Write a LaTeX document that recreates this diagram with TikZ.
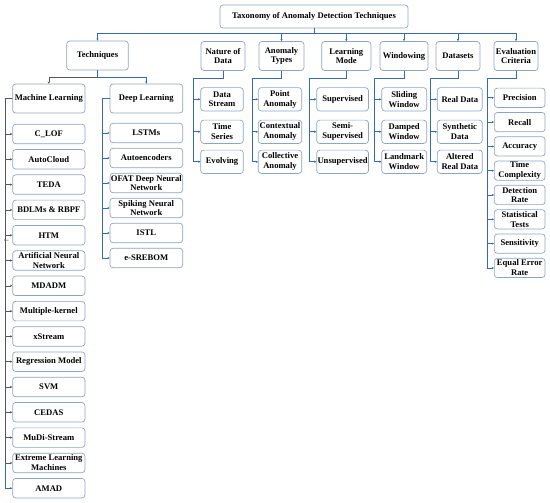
\documentclass[tikz,border=0pt]{standalone}
\usepackage{fontspec}
\setmainfont{Liberation Serif}
\usetikzlibrary{arrows.meta}
\tikzset{>=Stealth}
\definecolor{boxline}{RGB}{140,165,195}
\definecolor{linkblue}{RGB}{55,105,175}
\definecolor{linkgray}{RGB}{85,85,85}
\tikzset{
  box/.style={draw=boxline, line width=0.7pt, rounded corners=3pt, align=center,
    inner sep=0.5pt, font=\bfseries\fontsize{8.6}{9.8}\selectfont},
  topbox/.style={box, minimum height=29pt},
  mlbox/.style={box, minimum width=72.3pt, minimum height=19.5pt},
  dlbox/.style={box, minimum width=72.7pt, minimum height=19.5pt},
  rowbox/.style={box, minimum height=23.3pt},
  evbox/.style={box, minimum width=50.7pt, minimum height=19.3pt},
  link/.style={draw=linkblue, line width=0.6pt, -{Stealth[length=2.2pt,width=2.2pt]}},
  mllink/.style={link, draw=linkgray},
}

\begin{document}
\begin{tikzpicture}[x=1pt,y=-1pt]
\useasboundingbox (0,0) rectangle (550,503);

% root
\node[box, minimum width=188pt, minimum height=23pt] (root) at (314,16.5) {Taxonomy of Anomaly Detection Techniques};

% first level
\node[topbox, minimum width=61.6pt] (tech) at (97.5,55.5) {Techniques};
\node[topbox, minimum width=44pt] (nature) at (223,56) {Nature of\\Data};
\node[topbox, minimum width=45pt] (atypes) at (281.5,56) {Anomaly\\Types};
\node[topbox, minimum width=49.3pt] (lmode) at (346.3,56) {Learning\\Mode};
\node[topbox, minimum width=48pt] (window) at (404,56) {Windowing};
\node[topbox, minimum width=44pt] (dsets) at (458,56) {Datasets};
\node[topbox, minimum width=44pt] (evalc) at (516,56) {Evaluation\\Criteria};

% techniques
\node[topbox, minimum width=72.3pt] (ml) at (48.8,98.5) {Machine Learning};
\node[topbox, minimum width=72.7pt] (dl) at (146.3,98.5) {Deep Learning};

\node[mlbox] (clof) at (48.8,134) {C\_LOF};
\node[mlbox] (autocloud) at (48.8,159.3) {AutoCloud};
\node[mlbox] (teda) at (48.8,184.6) {TEDA};
\node[mlbox] (bdlm) at (48.8,209.9) {BDLMs \& RBPF};
\node[mlbox] (htm) at (48.8,235.2) {HTM};
\node[mlbox] (ann) at (48.8,260.5) {Artificial Neural\\Network};
\node[mlbox] (mdadm) at (48.8,285.8) {MDADM};
\node[mlbox] (mkernel) at (48.8,311.1) {Multiple-kernel};
\node[mlbox] (xstream) at (48.8,336.4) {xStream};
\node[mlbox] (regr) at (48.8,361.7) {Regression Model};
\node[mlbox] (svm) at (48.8,387) {SVM};
\node[mlbox] (cedas) at (48.8,412.3) {CEDAS};
\node[mlbox] (mudi) at (48.8,437.6) {MuDi-Stream};
\node[mlbox] (elm) at (48.8,462.9) {Extreme Learning\\Machines};
\node[mlbox] (amad) at (48.8,488.2) {AMAD};
\node[font=\fontsize{2.5}{3}\selectfont, inner sep=0pt] (tnote) at (6.3,240.3) {Text};

\node[dlbox] (lstm) at (146.3,133) {LSTMs};
\node[dlbox] (autoenc) at (146.3,158) {Autoencoders};
\node[dlbox] (ofat) at (146.3,183) {OFAT Deep Neural\\Network};
\node[dlbox] (spiking) at (146.3,208) {Spiking Neural\\Network};
\node[dlbox] (istl) at (146.3,233) {ISTL};
\node[dlbox] (esrebom) at (146.3,258) {e-SREBOM};

% nature of data
\node[rowbox, minimum width=42.6pt] (dstream) at (222,99.3) {Data\\Stream};
\node[rowbox, minimum width=42.6pt] (tseries) at (222,131.8) {Time\\Series};
\node[rowbox, minimum width=42.6pt] (evolving) at (222,161.8) {Evolving};

% anomaly types
\node[rowbox, minimum width=43.4pt] (point) at (280,99.3) {Point\\Anomaly};
\node[rowbox, minimum width=43.4pt] (context) at (280,131.8) {Contextual\\Anomaly};
\node[rowbox, minimum width=43.4pt] (collect) at (280,161.8) {Collective\\Anomaly};

% learning mode
\node[rowbox, minimum width=51.8pt] (superv) at (342.6,99.3) {Supervised};
\node[rowbox, minimum width=51.8pt] (semi) at (342.6,131.8) {Semi-\\Supervised};
\node[rowbox, minimum width=51.8pt] (unsup) at (342.6,161.8) {Unsupervised};

% windowing
\node[rowbox, minimum width=45pt] (sliding) at (404.2,99.3) {Sliding\\Window};
\node[rowbox, minimum width=45pt] (damped) at (404.2,131.8) {Damped\\Window};
\node[rowbox, minimum width=45pt] (landmark) at (404.2,161.8) {Landmark\\Window};

% datasets
\node[rowbox, minimum width=45pt] (real) at (459.8,99.3) {Real Data};
\node[rowbox, minimum width=45pt] (synth) at (459.8,131.8) {Synthetic\\Data};
\node[rowbox, minimum width=45pt] (altered) at (459.8,161.8) {Altered\\Real Data};

% evaluation criteria
\node[evbox] (precision) at (519.7,97.8) {Precision};
\node[evbox] (recall) at (519.7,122.1) {Recall};
\node[evbox] (accuracy) at (519.7,146.4) {Accuracy};
\node[evbox] (tcomplex) at (519.7,170.7) {Time\\Complexity};
\node[evbox] (drate) at (519.7,195) {Detection\\Rate};
\node[evbox] (stests) at (519.7,219.3) {Statistical\\Tests};
\node[evbox] (sensit) at (519.7,243.6) {Sensitivity};
\node[evbox] (eer) at (519.7,267.9) {Equal Error\\Rate};

% connectors
\foreach \c in {tech,atypes,lmode,window,dsets,evalc}
  \draw[link] (root.south) -- ++(0,4.5) -| (\c.north);

\draw[mllink] (tech.south) -- ++(0,6.5) -| (ml.north);
\draw[link] (tech.south) -- ++(0,6.5) -| (dl.north);

\draw[link] (ml.west) -| ([xshift=-7.5pt]amad.west) -- (amad.west);
\foreach \c in {clof,autocloud,teda,bdlm,htm,ann,mdadm,mkernel,xstream,regr,svm,cedas,mudi,elm}
  \draw[mllink] (ml.west) -| ([xshift=-7.5pt]\c.west) -- (\c.west);
\foreach \c in {lstm,autoenc,ofat,spiking,istl,esrebom}
  \draw[link] (dl.west) -| ([xshift=-7pt]\c.west) -- (\c.west);

\foreach \c in {dstream,tseries,evolving}
  \draw[link] (nature.south) -- ++(0,7) -| ([xshift=-7pt]\c.west) -- (\c.west);
\foreach \c in {point,context,collect}
  \draw[link] (atypes.south) -- ++(0,7) -| ([xshift=-6pt]\c.west) -- (\c.west);
\foreach \c in {superv,semi,unsup}
  \draw[link] (lmode.south) -- ++(0,7) -| ([xshift=-7pt]\c.west) -- (\c.west);
\foreach \c in {sliding,damped,landmark}
  \draw[link] (window.south) -- ++(0,7) -| ([xshift=-6.7pt]\c.west) -- (\c.west);
\foreach \c in {real,synth,altered}
  \draw[link] (dsets.south) -- ++(0,7) -| ([xshift=-6.6pt]\c.west) -- (\c.west);
\foreach \c in {precision,recall,accuracy,tcomplex,drate,stests,sensit,eer}
  \draw[link] (evalc.south) -- ++(0,7) -| ([xshift=-7pt]\c.west) -- (\c.west);
\end{tikzpicture}
\end{document}
